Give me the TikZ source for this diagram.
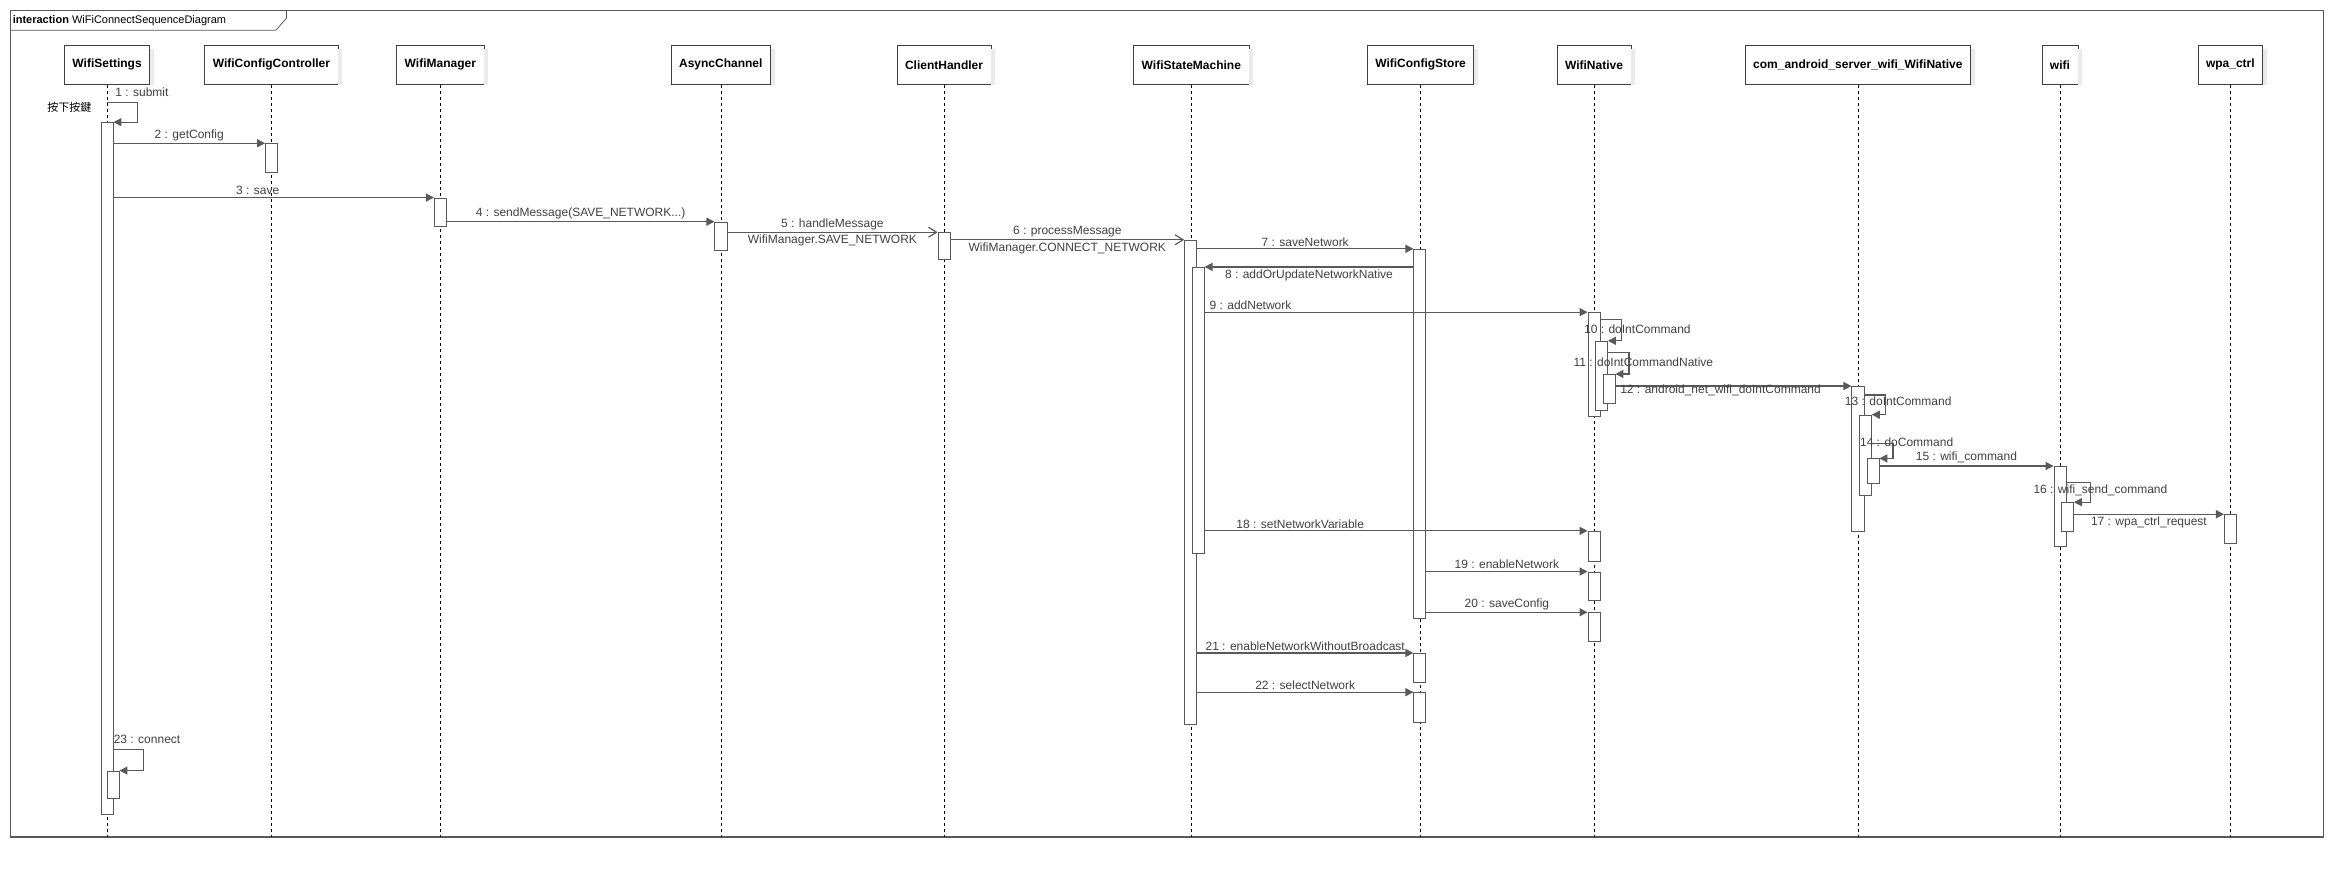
\documentclass[tikz,border=0pt]{standalone}
\usepackage{fontspec}
\setmainfont{Liberation Sans}
\newfontfamily\cjk{Noto Sans CJK SC}
\usetikzlibrary{arrows.meta,positioning}

\newcommand\actbox[4]{\node[act,minimum height={(#4-#3)*1.508pt}] (#1) at (#2,#3) {};}

\begin{document}
\begin{tikzpicture}[x=1.508pt,y=-1.508pt,
    font=\fontsize{12pt}{13pt}\selectfont,
    head/.style = {draw=black!75, fill=white, line width=0.8pt, font=\fontsize{12pt}{13pt}\selectfont\bfseries,
                   minimum height=26*1.508pt, inner xsep=8pt},
    shade/.style = {fill=black!8, draw=none},
    life/.style = {dashed, black, line width=0.5pt},
    act/.style = {draw=black!65, fill=white, line width=0.7pt, anchor=north, minimum width=8*1.508pt, inner sep=0pt},
    msg/.style = {draw=black!65, line width=1.2pt, -{Triangle[length=8pt,width=8pt]}},
    amsg/.style = {draw=black!65, line width=1.2pt, -{Straight Barb[length=8pt,width=10pt]}},
    lbl/.style = {text=black!75, inner sep=2pt}
  ]
  \useasboundingbox (0,0) rectangle (1550.4,576.3);

  % frame
  \draw[black!65, line width=1.2pt] (7,7) rectangle (1541,555);
  \draw[black!65, line width=0.8pt] (7,20) -- (183,20) -- (190,12) -- (190,7);
  \node[anchor=west, inner sep=2pt, font=\fontsize{11pt}{12pt}\selectfont] (title) at (7,13.5)
    {\textbf{interaction} WiFiConnectSequenceDiagram};

  % lifelines
  \foreach \n/\t/\x in {ws/WifiSettings/71, wcc/WifiConfigController/180, wm/WifiManager/292,
      ac/AsyncChannel/478, ch/ClientHandler/626, wsm/WifiStateMachine/790,
      store/WifiConfigStore/942, wn/WifiNative/1057, com/com\_android\_server\_wifi\_WifiNative/1232,
      wifi/wifi/1366, wpa/wpa\_ctrl/1479}{
    \node[head] (\n) at (\x,43) {\t};
    \fill[shade] ([xshift=4pt]\n.south east) rectangle ([yshift=-4pt]\n.north east);
    \draw[life] (\n) -- (\n |- 0,555);
  }

  % activations
  \actbox{a0}{71}{81}{540}
  \actbox{a2}{180}{95}{114}
  \actbox{a3}{292}{131}{150}
  \actbox{a4}{478}{147}{166}
  \actbox{a5}{626}{154}{172}
  \actbox{a6}{789.5}{159}{480}
  \actbox{a7}{941.5}{165}{410}
  \actbox{a8}{794.5}{177}{367}
  \actbox{a9}{1057}{207}{276}
  \actbox{a10}{1062}{226}{272}
  \actbox{a11}{1067}{248}{267}
  \actbox{a12}{1232}{256}{352}
  \actbox{a13}{1237}{275}{328}
  \actbox{a14}{1242}{304}{320}
  \actbox{a15}{1366}{309}{362}
  \actbox{a16}{1371}{333}{352}
  \actbox{a17}{1479}{341}{360}
  \actbox{a18}{1057}{352}{372}
  \actbox{a19}{1057}{379}{398}
  \actbox{a20}{1057}{406}{425}
  \actbox{a21}{941.5}{433}{452}
  \actbox{a22}{941.5}{459}{479}
  \actbox{a23}{75}{511}{529}

  % messages
  \draw[msg] (ws |- 0,68) -- (91,68) |- (a0.north east);
  \node[lbl, anchor=west] (l1) at (75,61) {1 : submit};
  \node[anchor=east, font=\cjk\fontsize{11pt}{12pt}\selectfont] (note) at (63,71) {按下按鍵};

  \draw[msg] (a0.east |- 0,95) -- node[lbl, above] {2 : getConfig} (a2.north west);
  \draw[msg] (a0.east |- 0,131) -- node[lbl, above, pos=0.45] {3 : save} (a3.north west);
  \draw[msg] (a3.east |- 0,147) -- node[lbl, above] {4 : sendMessage(SAVE\_NETWORK...)} (a4.north west);
  \draw[amsg] (a4.east |- 0,154) -- node[lbl, above] {5 : handleMessage}
    node[lbl, below] {WifiManager.SAVE\_NETWORK} (a5.north west);
  \draw[amsg] (a5.east |- 0,159) -- node[lbl, above] {6 : processMessage}
    node[lbl, below] {WifiManager.CONNECT\_NETWORK} (a6.north west);
  \draw[msg] (a6.east |- 0,165) -- node[lbl, above] {7 : saveNetwork} (a7.north west);
  \draw[msg] (a7.west |- 0,177) -- node[lbl, below] {8 : addOrUpdateNetworkNative} (a8.north east);
  \draw[msg] (a8.east |- 0,207) -- node[lbl, above, pos=0.12] {9 : addNetwork} (a9.north west);

  \draw[msg] (a9.east |- 0,212) -- ++(14,0) |- (a10.north east);
  \node[lbl, anchor=west] (l10) at (1049,218) {10 : doIntCommand};
  \draw[msg] (a10.east |- 0,234) -- ++(14,0) |- (a11.north east);
  \node[lbl, anchor=west] (l11) at (1042,240) {11 : doIntCommandNative};
  \draw[msg] (a11.east |- 0,256) -- (a12.north west);
  \node[lbl, anchor=west] (l12) at (1073,259) {12 : android\_net\_wifi\_doIntCommand};

  \draw[msg] (a12.east |- 0,262) -- ++(14,0) |- (a13.north east);
  \node[lbl, anchor=west] (l13) at (1222,266) {13 : doIntCommand};
  \draw[msg] (a13.east |- 0,294) -- ++(14,0) |- (a14.north east);
  \node[lbl, anchor=west] (l14) at (1232,293) {14 : doCommand};
  \draw[msg] (a14.east |- 0,309) -- node[lbl, above] {15 : wifi\_command} (a15.north west);

  \draw[msg] (a15.east |- 0,320) -- ++(16,0) |- (a16.north east);
  \node[lbl, anchor=west] (l16) at (1347,325) {16 : wifi\_send\_command};
  \draw[msg] (a16.east |- 0,341) -- node[lbl, below] {17 : wpa\_ctrl\_request} (a17.north west);

  \draw[msg] (a8.east |- 0,352) -- node[lbl, above, pos=0.25] {18 : setNetworkVariable} (a18.north west);
  \draw[msg] (a7.east |- 0,379) -- node[lbl, above] {19 : enableNetwork} (a19.north west);
  \draw[msg] (a7.east |- 0,406) -- node[lbl, above] {20 : saveConfig} (a20.north west);
  \draw[msg] (a6.east |- 0,433) -- node[lbl, above] {21 : enableNetworkWithoutBroadcast} (a21.north west);
  \draw[msg] (a6.east |- 0,459) -- node[lbl, above] {22 : selectNetwork} (a22.north west);

  \draw[msg] (a0.east |- 0,497) -- (95,497) |- (a23.north east);
  \node[lbl, anchor=west] (l23) at (74,490) {23 : connect};
\end{tikzpicture}
\end{document}
